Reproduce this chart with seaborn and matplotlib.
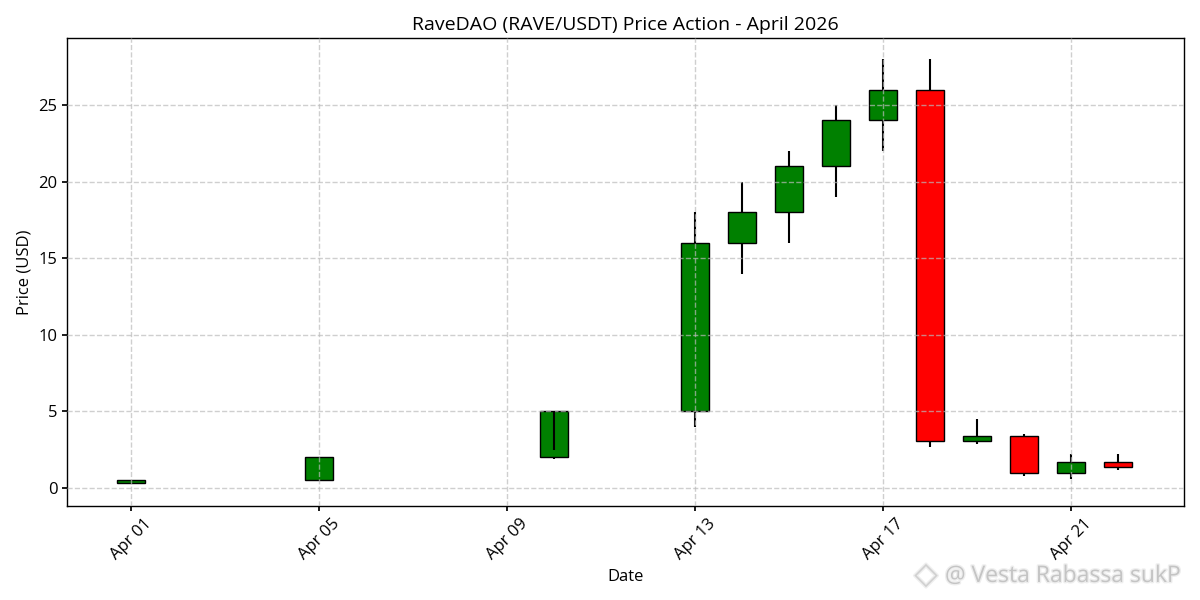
"""RaveDAO candlestick chart, April 2026."""

import matplotlib

matplotlib.use("Agg")
import matplotlib.dates as mdates
import matplotlib.patheffects as pe
import matplotlib.pyplot as plt
import numpy as np
import pandas as pd
import seaborn as sns

DAYS = ["2026-04-01", "2026-04-05", "2026-04-10", "2026-04-13", "2026-04-14", "2026-04-15",
        "2026-04-16", "2026-04-17", "2026-04-18", "2026-04-19", "2026-04-20", "2026-04-21", "2026-04-22"]
OPEN = [0.3, 0.5, 2.0, 5.0, 16.0, 18.0, 21.0, 24.0, 26.0, 3.1, 3.4, 1.0, 1.7]
CLOSE = [0.5, 2.0, 5.0, 16.0, 18.0, 21.0, 24.0, 26.0, 3.1, 3.4, 1.0, 1.7, 1.4]
HIGH = [0.5, 2.0, 5.0, 18.0, 20.0, 22.0, 25.0, 28.0, 28.0, 4.5, 3.5, 2.2, 2.2]
LOW = [0.3, 0.5, 1.9, 4.0, 14.0, 16.0, 19.0, 22.0, 2.7, 2.9, 0.8, 0.6, 1.2]
# the Apr 10 wick shows up inside the body in the source picture
INNER_DAY = ["2026-04-10"]
INNER_TOP = [5.0]
INNER_BOTTOM = [2.5]
TICK_DAYS = ["2026-04-01", "2026-04-05", "2026-04-09", "2026-04-13", "2026-04-17", "2026-04-21"]
Y_TICKS = [0, 5, 10, 15, 20, 25]

UP = "green"
DOWN = "red"


def to_num(days):
    return mdates.date2num(pd.to_datetime(days))


def main():
    sns.set_theme(style="ticks", rc={
        "axes.edgecolor": "black", "axes.labelcolor": "black", "text.color": "black",
        "xtick.color": "black", "ytick.color": "black", "axes.linewidth": 1.0,
        "xtick.major.size": 3.5, "ytick.major.size": 3.5,
    })
    plt.rcParams["font.family"] = ["Open Sans", "DejaVu Sans"]

    df = pd.DataFrame({"day": to_num(DAYS), "open": OPEN, "close": CLOSE, "high": HIGH, "low": LOW})
    df["bottom"] = df[["open", "close"]].min(axis=1)
    df["body"] = (df["close"] - df["open"]).abs()

    fig, ax = plt.subplots(figsize=(12, 6), dpi=100)

    # wicks sit behind the bodies, the gridline goes on top of both
    ax.vlines(df["day"], df["low"], df["high"], color="black", linewidth=1.5, zorder=1)
    sns.barplot(data=df, x="day", y="body", bottom=df["bottom"], native_scale=True, width=0.6,
                color=UP, saturation=1, edgecolor="black", linewidth=1.0, errorbar=None,
                zorder=2, ax=ax)
    for patch, o, c in zip(ax.patches, OPEN, CLOSE):
        patch.set_facecolor(UP if c >= o else DOWN)
    ax.vlines(to_num(INNER_DAY), INNER_BOTTOM, INNER_TOP, color="black", linewidth=1.5, zorder=3)

    ax.set_axisbelow(False)
    ax.grid(True, linestyle="--", color="#bbbbbb", alpha=0.7, linewidth=1.0)

    ax.set_xlim(df["day"].min() - 1.36, df["day"].max() + 1.4)
    ax.set_ylim(-1.17, 29.37)
    ax.set_xticks(to_num(TICK_DAYS))
    ax.xaxis.set_major_formatter(mdates.DateFormatter("%b %d"))
    ax.set_yticks(Y_TICKS)
    ax.tick_params(axis="x", labelsize=12, rotation=45)
    ax.tick_params(axis="y", labelsize=12)

    ax.set_title("RaveDAO (RAVE/USDT) Price Action - April 2026", fontsize=14)
    ax.set_xlabel("Date", fontsize=12)
    ax.set_ylabel("Price (USD)", fontsize=12)

    fig.subplots_adjust(left=67 / 1200, right=1184 / 1200, top=1 - 38 / 600, bottom=1 - 506 / 600)

    # watermark: small diamond logo plus handle, bottom right
    halo = [pe.withStroke(linewidth=2, foreground="#eeeeee")]
    fig.text(945 / 1200, 1 - 576 / 600, "@ Vesta Rabassa sukP", fontsize=16.5, color="#c4c4c4",
             ha="left", va="center", path_effects=halo, zorder=5)
    fig.text(926 / 1200, 1 - 575 / 600, "\u25c7", fontsize=22, color="#d0d0d0",
             ha="center", va="center", family="DejaVu Sans", path_effects=halo, zorder=5)

    fig.savefig("out.png", dpi=100)
    plt.close(fig)


if __name__ == "__main__":
    main()
